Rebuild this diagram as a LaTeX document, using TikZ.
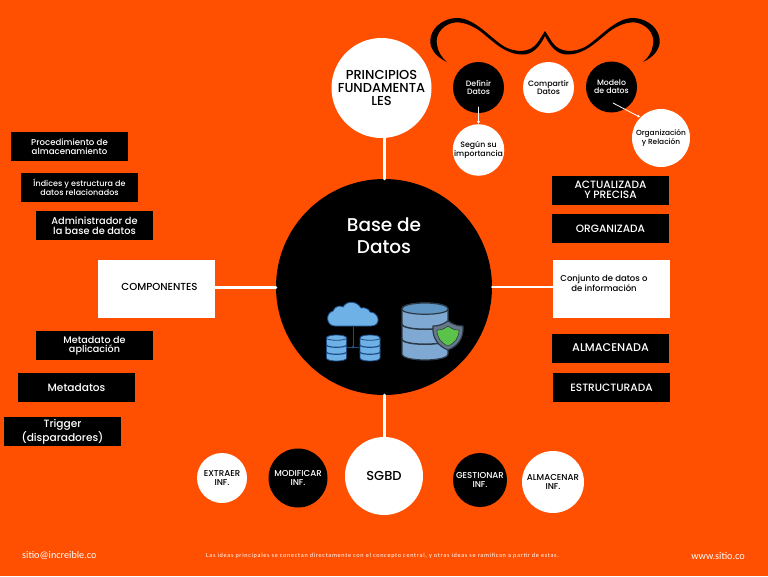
\documentclass[tikz,border=0pt]{standalone}
\usepackage{fontspec}
\setmainfont{Poppins Medium}
\newfontfamily\footfont{Carlito}
\usetikzlibrary{arrows.meta}
\definecolor{naranja}{HTML}{FF4F00}
\definecolor{nube}{HTML}{6DB1E6}
\definecolor{nubeosc}{HTML}{1F4E86}
\definecolor{disco}{HTML}{7FA9D2}
\definecolor{discotop}{HTML}{5F96C4}
\definecolor{contorno}{HTML}{2C3A48}
\definecolor{anillo}{HTML}{66788A}
\definecolor{escudo}{HTML}{5CC34A}
\tikzset{
  negro/.style={fill=black,text=white,minimum width=117pt,minimum height=29pt,inner sep=0pt,align=center,font=\fontsize{#1}{#1}\selectfont},
  negro/.default=10.6,
  blanco/.style={fill=white,minimum width=117pt,minimum height=58pt,inner sep=0pt},
  rotulo/.style={text=black,inner sep=0pt,align=center,font=\fontsize{#1}{#1}\selectfont},
  bola/.style={circle,fill=white,text=black,inner sep=0pt,align=center,minimum size=51pt,font=\fontsize{#1}{#1}\selectfont},
  bola/.default=7.8,
  bolan/.style={bola=#1,fill=black,text=white},
  bolan/.default=7.8,
  enlace/.style={white,line width=3pt},
  flecha/.style={white,line width=0.8pt,-{Latex[length=3pt,width=3pt]}},
  pie/.style={white,inner sep=0pt,font=\footfont\fontsize{#1}{#1}\selectfont},
  tapa/.style={draw=#1,line width=1.2pt}
}
\begin{document}
\begin{tikzpicture}[line cap=round,line join=round,x=1pt,y=-1pt]
\fill[naranja] (0,0) rectangle (768,576);
\useasboundingbox (0,0) rectangle (768,576);
\node[circle,fill=black,minimum size=216pt,inner sep=0pt] (base) at (384,287) {};
\node[white,align=center,font=\fontsize{18.5}{22}\selectfont] (titulo) at (384,236) {Base de\\Datos};
\node[bola=13,minimum size=100pt] (principios) at (381.5,88) {PRINCIPIOS\\FUNDAMENTA\\LES};
\node[bola=13,minimum size=78pt] (sgbd) at (384,476) {SGBD};
\node[blanco] (componentes) at (156,289) {};
\node[rotulo=10.2] (componentestxt) at (159.5,287) {COMPONENTES};
\node[blanco] (conjunto) at (611.5,289) {};
\node[rotulo=8.5] (conjuntotxt) at (604,283) {Conjunto de datos o\\de información};
\draw[enlace] (base.north) -- (base.north |- principios.south);
\draw[enlace] (base.south) -- (base.south |- sgbd.north);
\draw[enlace] (base.west) -- (base.west -| componentes.east);
\draw[enlace,line width=2pt] (base.east) -- (base.east -| conjunto.west);

\node[bolan] (definir) at (478.5,87.5) {Definir\\Datos};
\node[bola] (compartir) at (548.5,87.5) {Compartir\\Datos};
\node[bolan] (modelo) at (611.5,87) {Modelo\\de datos};
\node[bola] (segun) at (478.5,150) {Según su\\importancia};
\node[bola=7.4,minimum size=58pt] (relacion) at (661,138) {Organización\\y Relación};
\coordinate (definirsal) at (478.5,107);
\coordinate (modelosal) at (613,103);
\draw[flecha] (definirsal) -- (segun.north);
\draw[flecha] (modelosal) -- (relacion.north west);

\foreach \s in {1,-1}
  \fill[black,shift={(545,0)},xscale=\s] (-98,62) .. controls (-111,56) and (-117,46) .. (-114,36)
    .. controls (-111,25) and (-99,18) .. (-88,18) .. controls (-70,18) and (-55,38) .. (-40,47)
    .. controls (-30,52) and (-15,54) .. (-7,42) -- (0,31) -- (0,36)
    .. controls (-5,46) and (-12,55) .. (-23,54.5) .. controls (-40,54) and (-50,43) .. (-65,31)
    .. controls (-75,24) and (-85,21) .. (-93,23) .. controls (-104,26) and (-110,36) .. (-108,45)
    .. controls (-107,52) and (-103,58) .. (-98,62) -- cycle;

\node[negro=8.6] (procedimiento) at (69.5,146.5) {Procedimiento de\\almacenamiento};
\node[negro=8] (indices) at (79.5,187.5) {Índices y estructura de\\datos relacionados};
\node[negro=9.8] (administrador) at (94.5,225.5) {Administrador de\\la base de datos};
\node[negro=9.6] (metadato) at (94.5,345.5) {Metadato de\\aplicación};
\node[negro] (metadatos) at (76.5,387.5) {Metadatos};
\node[negro] (trigger) at (62.5,431.5) {Trigger\\(disparadores)};
\node[negro] (actualizada) at (610.5,190) {ACTUALIZADA\\Y PRECISA};
\node[negro] (organizada) at (610.5,228.5) {ORGANIZADA};
\node[negro=11.2] (almacenada) at (610.5,348) {ALMACENADA};
\node[negro] (estructurada) at (611.5,387.5) {ESTRUCTURADA};

\node[bola=8.6,minimum size=50pt] (extraer) at (222,478) {EXTRAER\\INF.};
\node[bolan=8.6,minimum size=59pt] (modificar) at (298,478) {MODIFICAR\\INF.};
\node[bolan=8.6,minimum size=54pt] (gestionar) at (480,480) {GESTIONAR\\INF.};
\node[bola=8.6,minimum size=62pt] (almacenar) at (553,482) {ALMACENAR\\INF.};

\node[pie=10.2,anchor=west] (correo) at (22,556) {sitio@increible.co};
\node[pie=6.2] (nota) at (382.5,556) {\addfontfeature{LetterSpace=11}Las ideas principales se conectan directamente con el concepto central, y otras ideas se ramifican a partir de estas.};
\node[pie=10.2,anchor=east] (web) at (745,556) {www.sitio.co};

\draw[nubeosc,line width=0.8pt] (353,327) -- (353,347) (347,347) -- (359,347);
\fill[nubeosc] (353,347) circle (1.5);
\draw[nubeosc,line width=0.8pt,fill=nube] (335,326) .. controls (326,326) and (325,313) .. (333,311)
  .. controls (335,306) and (340,305) .. (343,307) .. controls (347,300) and (357,301) .. (361,308)
  .. controls (365,307) and (369,309) .. (370,312) .. controls (379,312) and (382,326) .. (371,326) -- cycle;
\foreach \cx in {336.5,370}{
  \draw[nubeosc,line width=0.8pt,fill=nube] (\cx-10,338) -- (\cx-10,358) .. controls (\cx-10,362) and (\cx+10,362) .. (\cx+10,358) -- (\cx+10,338)
    .. controls (\cx+10,334) and (\cx-10,334) .. (\cx-10,338) -- cycle;
  \draw[nubeosc,line width=0.8pt] (\cx-10,338) .. controls (\cx-10,341) and (\cx+10,341) .. (\cx+10,338);
  \draw[nubeosc,line width=1.2pt] (\cx-10,345) .. controls (\cx-10,348) and (\cx+10,348) .. (\cx+10,345);
  \draw[nubeosc,line width=1.2pt] (\cx-10,352) .. controls (\cx-10,355) and (\cx+10,355) .. (\cx+10,352);
}
\draw[tapa=contorno,fill=disco] (402,309) -- (402,354) .. controls (402,362) and (448,362) .. (448,354) -- (448,309)
  .. controls (448,301) and (402,301) .. (402,309) -- cycle;
\fill[discotop,draw=contorno,line width=1.2pt] (402,309) .. controls (402,301) and (448,301) .. (448,309) .. controls (448,316) and (402,316) .. (402,309) -- cycle;
\draw[contorno,line width=1.5pt] (402,324) .. controls (402,331) and (448,331) .. (448,324);
\draw[contorno,line width=1.5pt] (402,339) .. controls (402,346) and (448,346) .. (448,339);
\draw[contorno,line width=1.2pt,fill=anillo] (448,321) .. controls (454,325) and (458,326) .. (463,326)
  .. controls (464,338) and (458,346) .. (448,350) .. controls (438,346) and (432,338) .. (433,326)
  .. controls (438,326) and (442,325) .. (448,321) -- cycle;
\fill[escudo,draw=contorno,line width=0.6pt] (448,326) .. controls (452,329) and (455,330) .. (459,330)
  .. controls (459,338) and (455,343) .. (448,346) .. controls (441,343) and (437,338) .. (437,330)
  .. controls (441,330) and (444,329) .. (448,326) -- cycle;
\end{tikzpicture}
\end{document}
